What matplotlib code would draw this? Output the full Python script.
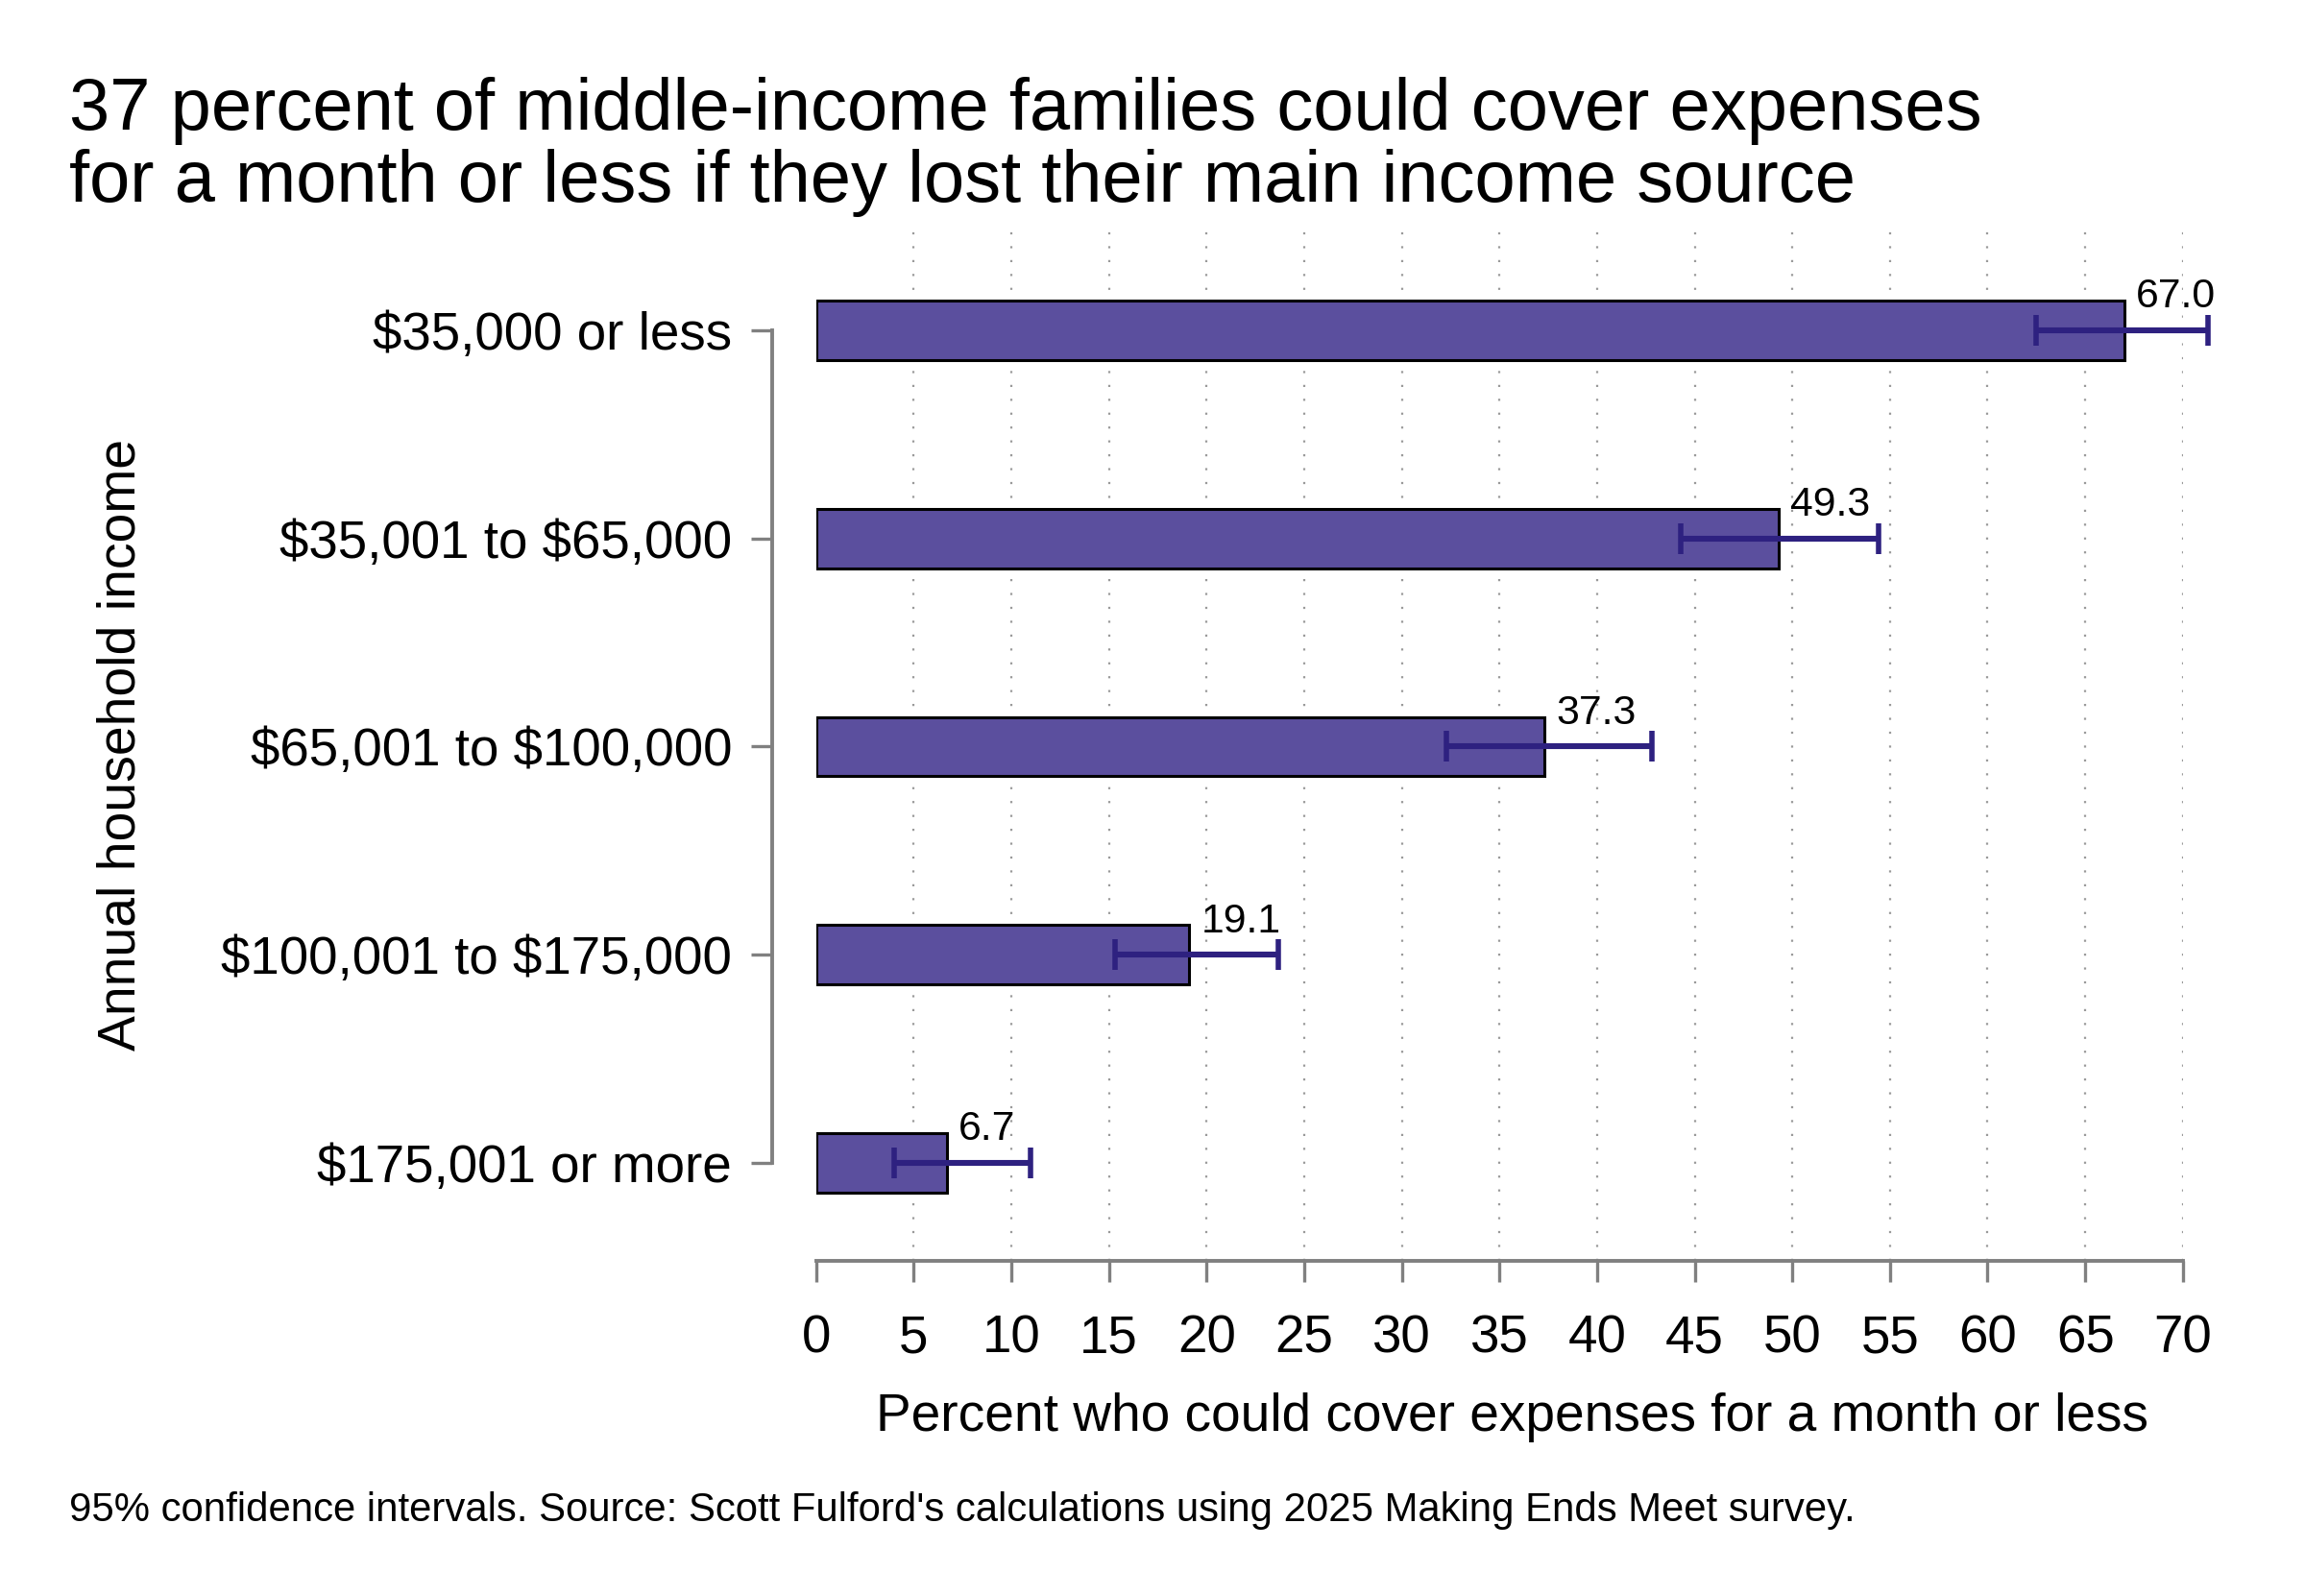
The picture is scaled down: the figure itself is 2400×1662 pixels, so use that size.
import matplotlib
matplotlib.use("Agg")
import matplotlib.pyplot as plt
import numpy as np

# data
categories = ["\\$35,000 or less", "\\$35,001 to \\$65,000", "\\$65,001 to \\$100,000",
              "\\$100,001 to \\$175,000", "\\$175,001 or more"]
share = [67.0, 49.3, 37.3, 19.1, 6.7]
ci_low = [62.5, 44.3, 32.3, 15.3, 4.0]
ci_high = [71.3, 54.4, 42.8, 23.7, 11.0]
x_ticks = list(range(0, 75, 5))

title = ("37 percent of middle-income families could cover expenses\n"
         "for a month or less if they lost their main income source")
note = ("95% confidence intervals. Source: Scott Fulford's calculations "
        "using 2025 Making Ends Meet survey.")

plt.rcParams["font.family"] = ["Liberation Sans", "DejaVu Sans"]

bar_color = "#5b4f9e"
err_color = "#2e2180"
axis_gray = "#808080"

fig = plt.figure(figsize=(12, 8.31), dpi=200)
ax = fig.add_axes([0.354, 0.210, 0.593, 0.647])

y = np.arange(len(categories))
ax.barh(y, share, height=0.285, color=bar_color, edgecolor="black",
        linewidth=1.1, zorder=3)

# CI whiskers (caps drawn outside the axes for the top bar)
xerr = [np.array(share) - np.array(ci_low), np.array(ci_high) - np.array(share)]
eb = ax.errorbar(share, y, xerr=xerr, fmt="none", ecolor=err_color,
                 elinewidth=2.2, capsize=5.9, capthick=2.0, zorder=4)
for artist in eb.lines[1] + eb.lines[2]:
    artist.set_clip_on(False)

for yi, v in zip(y, share):
    ax.annotate(f"{v:.1f}", (v, yi), xytext=(4.5, 12.5), textcoords="offset points",
                ha="left", va="center", fontsize=15.4, color="black", zorder=5)

ax.set_xlim(0, 70)
ax.set_ylim(len(categories) - 1 + 0.47, -0.49)
ax.set_xticks(x_ticks)
ax.set_xticklabels([str(t) for t in x_ticks])
ax.set_yticks(y)
ax.set_yticklabels(categories)

# dotted vertical grid (not at 0)
for t in x_ticks[1:]:
    ax.axvline(t, color="#9a9a9a", linestyle=(0, (1, 5.5)), linewidth=0.8, zorder=1)

for s in ["top", "right"]:
    ax.spines[s].set_visible(False)
ax.spines["left"].set_position(("outward", 16.5))
ax.spines["left"].set_bounds(0, len(categories) - 1)
ax.spines["bottom"].set_bounds(0, 70)
for s in ["left", "bottom"]:
    ax.spines[s].set_color(axis_gray)
    ax.spines[s].set_linewidth(1.4)

ax.tick_params(axis="y", length=8, width=1.2, color=axis_gray, pad=7, labelsize=19.7)
ax.tick_params(axis="x", length=8, width=1.2, color=axis_gray, pad=12, labelsize=19.7)

ax.set_xlabel("Percent who could cover expenses for a month or less", fontsize=19.8)
ax.xaxis.set_label_coords(0.509, -0.152)
ax.xaxis.label.set_va("center")
ax.set_ylabel("Annual household income", fontsize=19.9)
ax.yaxis.set_label_coords(-0.49, 0.5)

fig.text(0.030, 0.952, title, fontsize=27.3, ha="left", va="top", linespacing=1.07)
fig.text(0.030, 0.047, note, fontsize=15.1, ha="left", va="baseline")

fig.savefig("out.png", dpi=200, facecolor="white")
